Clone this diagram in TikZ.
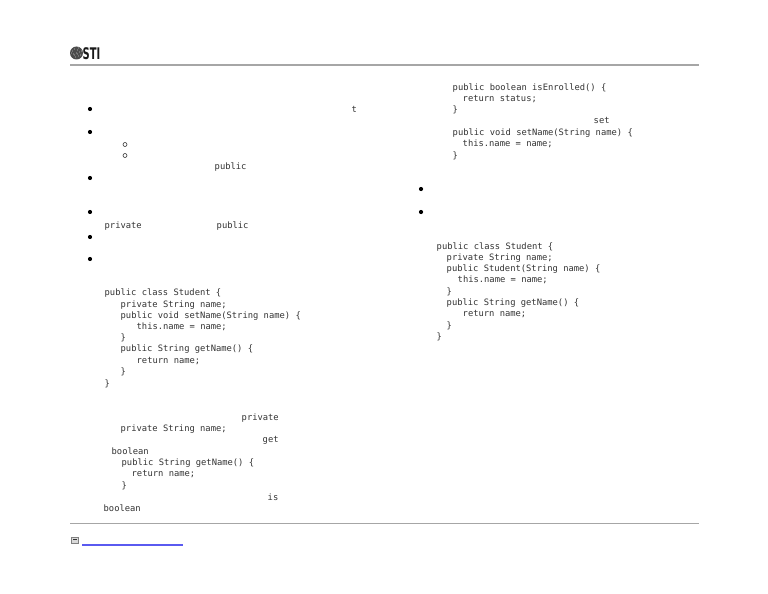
\documentclass[tikz,border=0pt]{standalone}
\usepackage{fontspec}
\setmainfont{DejaVu Sans}
\setmonofont{DejaVu Sans Mono}
\usepackage{xcolor}
\definecolor{rulegray}{HTML}{A6A6A6}
\definecolor{linkblue}{HTML}{5A5AF0}
\definecolor{inkdark}{HTML}{333333}
\usetikzlibrary{positioning}
\tikzset{
    codeline/.style={anchor=base west,inner sep=0pt,text=inkdark,font=\ttfamily\fontsize{8.8}{11}\selectfont},
    pagerule/.style={draw=rulegray,line width=1.4pt},
    bulletdot/.style={circle,fill=black,inner sep=0pt,minimum size=4.2pt},
    bullethollow/.style={circle,draw=inkdark,line width=0.6pt,inner sep=0pt,minimum size=4pt}
}

\begin{document}
\begin{tikzpicture}[x=1pt,y=-1pt]
    \useasboundingbox (0,0) rectangle (768,594);
    \fill[white] (0,0) rectangle (768,594);
    % header and footer
    \coordinate (headl) at (70,65);
    \coordinate (headr) at (699,65);
    \coordinate (footl) at (70,523.5);
    \coordinate (footr) at (699,523.5);
    \coordinate (linkl) at (82,545);
    \coordinate (linkr) at (183,545);
    \draw[pagerule,line width=2pt] (headl) -- (headr);
    \draw[pagerule,line width=1.2pt] (footl) -- (footr);
    \draw[draw=linkblue,line width=1.2pt] (linkl) -- (linkr);
    % logo
    \fill[black!70] (76.5,53) circle (6.5);
    \foreach \dx/\dy in {-4/-2,-2/-4,1/-3,3/-1,-3/1,0/0,2/3,-1/4,4/2,-5/0,-2/2,2/-5,5/-2,1/1}
        \fill[white] (76.5+\dx,53+\dy) circle (0.45);
    \node[anchor=base west,inner sep=0pt,xscale=0.62,font=\bfseries\fontsize{16}{16}\selectfont,text=black!90] (logo) at (82.5,59.5) {STI};
    % file icon
    \draw[draw=gray,fill=black!15,line width=0.8pt] (71.5,537.5) rectangle (78.5,543.5);
    \draw[draw=inkdark,line width=0.6pt] (73,539.5) -- (77,539.5);
    % bullets
    \foreach \px/\py [count=\n] in {90/109,90/132,90/178,90/212,90/237,90/259,421/189,421/212}
        \node[bulletdot] (dot\n) at (\px,\py) {};
    \node[bullethollow] (sub1) at (125,144.5) {};
    \node[bullethollow] (sub2) at (125,155.5) {};
    % code text, left column then right column
    \foreach \px/\py/\txt [count=\n] in {
        351.5/109/t,
        214.5/166/public,
        104.5/225/private,
        216.5/225/public,
        104.5/292/public class Student \{,
        120.5/304/private String name;,
        120.5/315/public void setName(String name) \{,
        136.5/326/this.name = name;,
        120.5/337/\},
        120.5/348/public String getName() \{,
        136.5/360/return name;,
        120.5/371/\},
        104.5/383/\},
        241.5/417/private,
        120.5/428/private String name;,
        262.5/439/get,
        111.5/451/boolean,
        121.5/462/public String getName() \{,
        131.5/473/return name;,
        121.5/485/\},
        267.5/497/is,
        103.5/508/boolean,
        452.5/87/public boolean isEnrolled() \{,
        462.5/98/return status;,
        452.5/109/\},
        593.5/120/set,
        452.5/132/public void setName(String name) \{,
        462.5/143/this.name = name;,
        452.5/155/\},
        436.5/246/public class Student \{,
        446.5/257/private String name;,
        446.5/268/public Student(String name) \{,
        457.5/279/this.name = name;,
        446.5/291/\},
        446.5/302/public String getName() \{,
        462.5/313/return name;,
        446.5/325/\},
        436.5/336/\}
    }
        \node[codeline] (code\n) at (\px,\py+3) {\txt};
\end{tikzpicture}
\end{document}
